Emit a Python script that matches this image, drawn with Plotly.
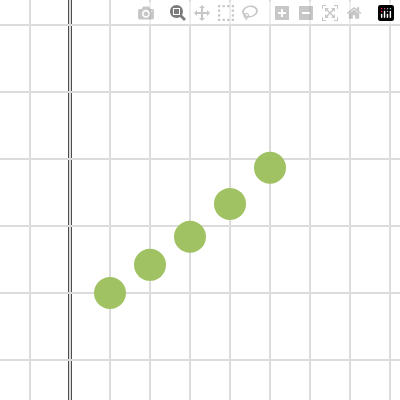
import plotly.graph_objects as go

x_vals = [1, 2, 3, 4, 5]
y_vals = [0, 0.42, 0.84, 1.33, 1.87]

fig = go.Figure()
fig.add_trace(go.Scatter(x=x_vals, y=y_vals, mode="markers",
                         marker=dict(size=32, color="#9bbf5a", opacity=0.95, line=dict(width=0))))
for xv in [5]:
    fig.add_shape(type="line", x0=xv, x1=xv, y0=0, y1=1, yref="paper", line=dict(color="#777", width=1.5), layer="between")
for yv in [0, 4]:
    fig.add_shape(type="line", y0=yv, y1=yv, x0=0, x1=1, xref="paper", line=dict(color="#777", width=1.5), layer="between")
fig.add_shape(type="line", x0=0, x1=0, y0=0, y1=1, yref="paper", line=dict(color="#111", width=3.5), layer="between")
fig.update_layout(width=400, height=400, margin=dict(l=0, r=0, t=0, b=0),
                  plot_bgcolor="white", paper_bgcolor="white", showlegend=False)
fig.update_xaxes(range=[-1.75, 8.25], dtick=1, gridcolor="#dcdcdc", gridwidth=2,
                 zeroline=False, showticklabels=False)
fig.update_yaxes(range=[-1.597, 4.373], dtick=1, gridcolor="#dcdcdc", gridwidth=2,
                 zeroline=False, showticklabels=False)
fig.write_html("out.html", post_script="document.body.style.margin='0';")
